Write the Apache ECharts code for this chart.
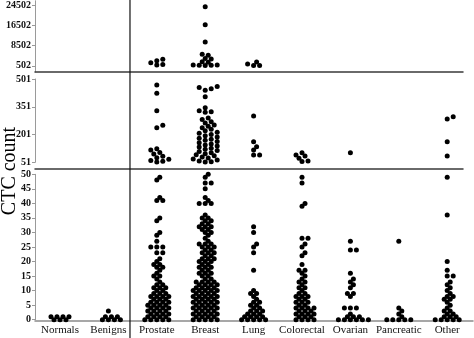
<!DOCTYPE html>
<html><head><meta charset="utf-8">
<script src="https://cdn.jsdelivr.net/npm/echarts@6/dist/echarts.min.js"></script>
<style>html,body{margin:0;padding:0;background:#fff}#c{width:474px;height:338px}</style>
</head><body><div id="c"></div>
<script>
// ---------- data (CTC counts per patient) ----------
const categories = ['Normals', 'Benigns', 'Prostate', 'Breast', 'Lung', 'Colorectal', 'Ovarian', 'Pancreatic', 'Other'];

const normals = [0, 0, 0, 1, 1, 1, 1];
const benigns = [0, 0, 0, 0, 1, 1, 1, 3];
const prostate = [3100, 2450, 1650, 1000, 770,
  469, 424, 330, 251, 238, 124, 118, 104, 96, 84, 76, 68, 61, 56, 52,
  49, 48, 42, 41, 41, 35, 34, 30, 29, 27, 25, 25, 25, 23, 23, 21, 20, 19, 19, 18, 18, 17, 16, 15, 15, 14, 13,
  12, 12, 11, 11, 11, 10, 10, 9, 9, 9, 8, 8, 8, 8, 7, 7, 7, 6, 6, 6, 6, 5, 5, 5, 5, 4, 4, 4, 4,
  3, 3, 3, 3, 2, 2, 2, 2, 1, 1, 1, 1, 0, 0, 0, 0, 0];
const breast = [23840, 16680, 9880, 5070, 4680, 3400, 3200, 2100, 1900, 820, 760, 700, 660, 610,
  460, 455, 448, 440, 405, 346, 330, 324, 322,
  290, 282, 270, 263, 252, 246, 238, 229, 222, 214, 208, 201, 195, 188, 181, 176, 170, 163, 157, 150,
  144, 139, 133, 127, 121, 115, 109, 103, 97, 92, 86, 80, 74, 69, 63, 58, 54, 52,
  50, 49, 47, 47, 45, 42, 41, 40, 40, 40,
  36, 35, 35, 34, 34, 33, 33, 32, 32, 32, 31, 31, 30, 30, 29,
  28, 27, 26, 26, 26, 25, 25, 25, 24, 24, 23, 23, 23, 22, 22, 21, 21, 21, 20, 20, 20, 19, 19, 18, 18, 18,
  17, 17, 16, 16, 16, 15, 15, 14, 14,
  13, 13, 13, 13, 12, 12, 12, 12, 11, 11, 11, 11, 10, 10, 10, 10, 10, 9, 9, 9, 9, 8, 8, 8, 8, 8,
  7, 7, 7, 7, 6, 6, 6, 6, 6, 5, 5, 5, 5, 4, 4, 4, 4, 4, 3, 3, 3, 3, 2, 2, 2, 2, 2, 1, 1, 1, 1, 0, 0, 0, 0, 0];
const lung = [2000, 1200, 620, 600,
  301, 162, 135, 118, 91, 91,
  32, 30, 26, 25, 23, 17, 10, 9, 9, 8, 7, 6, 6, 5, 5, 4, 4, 3, 3, 3, 2, 2, 2, 1, 1, 1, 1, 0, 0, 0, 0, 0];
const colorectal = [103, 90, 85, 73, 58, 55,
  49, 47, 40, 39, 28, 28, 26, 25, 23, 22, 19, 17, 17, 16, 15, 14, 13, 13, 12, 11, 11, 10, 9, 9,
  8, 8, 8, 7, 7, 6, 6, 6, 5, 5, 4, 4, 4, 4, 3, 3, 3, 2, 2, 2, 2, 1, 1, 1, 0, 0, 0, 0];
const ovarian = [103, 27, 24, 24, 16, 14, 13, 12, 11, 9, 9, 8, 4, 4, 4, 2, 1, 1, 1, 0, 0, 0, 0, 0, 0];
const pancreatic = [27, 4, 3, 2, 1, 0, 0, 0, 0, 0];
const other = [297, 285, 162, 85,
  49, 36, 20, 17, 15, 15, 13, 12, 11, 10, 9, 8, 8, 7, 7, 6, 5, 4, 3, 3, 2, 2, 1, 1, 1, 0, 0, 0, 0, 0];

const topTicks = [502, 8502, 16502, 24502];
const midTicks = [51, 201, 351, 501];
const lowTicks = [0, 50];          // bottom panel range, labelled every 5
const groups = [normals, benigns, prostate, breast, lung, colorectal, ovarian, pancreatic, other];

// ---------- layout / style ----------
const XL = -0.5165, XR = 8.3264, XR2 = 8.533, DIVIDER = 1.446;
const serif = 'Liberation Serif';
const yLabel = {fontFamily: serif, fontWeight: 'bold', fontSize: 10, color: '#111', margin: 4,
  formatter: v => String(v)};
const yLine = {show: true, onZero: false, lineStyle: {color: '#9a9a9a', width: 1}};
const hiddenX = (g, max, color, width, off) => ({
  gridIndex: g, type: 'value', min: XL, max: max, offset: off,
  axisLabel: {show: false}, axisTick: {show: false}, splitLine: {show: false},
  axisLine: {show: true, onZero: false, lineStyle: {color: color, width: width}}
});

const chart = echarts.init(document.getElementById('c'));
const option = {
  animation: false,
  backgroundColor: '#fff',
  grid: [
    {left: 35, right: 11, top: 0, bottom: 266},
    {left: 35, right: 11, top: 79, bottom: 175.7},
    {left: 35, right: 1, top: 174.3, bottom: 18.3},
    {left: 60, right: 26.8, top: 174.3, bottom: 17},
    {left: 35, right: 11, top: 0, bottom: 0}
  ],
  xAxis: [
    hiddenX(0, XR, '#3a3a3a', 1.5, 0),
    hiddenX(1, XR, '#3a3a3a', 1.5, 6),
    hiddenX(2, XR2, '#8a8a8a', 1.5, 1.3),
    {gridIndex: 3, type: 'category', data: categories, boundaryGap: false,
     axisLine: {show: false}, axisTick: {show: false},
     axisLabel: {interval: 0, fontFamily: serif, fontSize: 11, color: '#111', margin: 4}},
    {gridIndex: 4, type: 'value', min: XL, max: XR, show: false}
  ],
  yAxis: [
    {gridIndex: 0, type: 'value', min: -1961, max: 26183, splitLine: {show: false}, axisLine: yLine,
     axisTick: {show: true, length: 3, customValues: topTicks, lineStyle: {color: '#9a9a9a'}},
     axisLabel: Object.assign({customValues: topTicks}, yLabel)},
    {gridIndex: 1, type: 'value', min: midTicks[0], max: midTicks[3], splitLine: {show: false}, axisLine: yLine,
     axisTick: {show: true, length: 3, customValues: midTicks, lineStyle: {color: '#9a9a9a'}},
     axisLabel: Object.assign({customValues: midTicks}, yLabel)},
    {gridIndex: 2, type: 'value', min: lowTicks[0], max: lowTicks[1], interval: 5, splitLine: {show: false}, axisLine: yLine,
     axisTick: {show: true, length: 3, lineStyle: {color: '#9a9a9a'}},
     axisLabel: yLabel},
    {gridIndex: 3, type: 'value', show: false},
    {gridIndex: 4, type: 'value', min: 0, max: 1, show: false}
  ],
  graphic: [{
    type: 'text', x: 10, y: 171, rotation: Math.PI / 2,
    style: {text: 'CTC count', font: '20px "Liberation Serif"', fill: '#000', align: 'center', verticalAlign: 'middle'}
  }],
  series: []
};
chart.setOption(option);

// beeswarm offsets (pixels) for one group of pixel y's
function swarm(pys, s, d) {
  const placed = [], out = [];
  for (const y of pys) {
    let k = 0, dx = 0;
    for (;;) {
      dx = k === 0 ? 0 : (k % 2 === 1 ? Math.ceil(k / 2) * s : -Math.ceil(k / 2) * s);
      let ok = true;
      for (const p of placed) {
        const a = p[0] - dx, b = p[1] - y;
        if (a * a + b * b < d * d - 1e-6) { ok = false; break; }
      }
      if (ok) break;
      k++;
    }
    placed.push([dx, y]); out.push(dx);
  }
  return out;
}

const panelOf = v => v > midTicks[3] ? 0 : (v > lowTicks[1] ? 1 : 2);
const seriesData = [[], [], []];
groups.forEach((vals, ci) => {
  for (let p = 0; p < 3; p++) {
    const vs = vals.filter(v => panelOf(v) === p).sort((a, b) => a - b);
    if (!vs.length) continue;
    const unit = chart.convertToPixel({gridIndex: p}, [1, 0])[0] - chart.convertToPixel({gridIndex: p}, [0, 0])[0];
    const pys = vs.map(v => chart.convertToPixel({gridIndex: p}, [ci, v])[1]);
    const dxs = swarm(pys, 3, 4.1);
    vs.forEach((v, j) => seriesData[p].push([ci + dxs[j] / unit, v]));
  }
});

const series = seriesData.map((d, p) => ({
  type: 'scatter', xAxisIndex: p, yAxisIndex: p, data: d, symbolSize: 5, clip: false,
  itemStyle: {color: '#000', opacity: 1}, silent: true
}));
series.push({
  type: 'line', xAxisIndex: 4, yAxisIndex: 4, data: [[DIVIDER, 0], [DIVIDER, 1]],
  symbol: 'none', silent: true, lineStyle: {color: '#111', width: 1.2}
});
chart.setOption({series: series});
</script>
</body></html>
